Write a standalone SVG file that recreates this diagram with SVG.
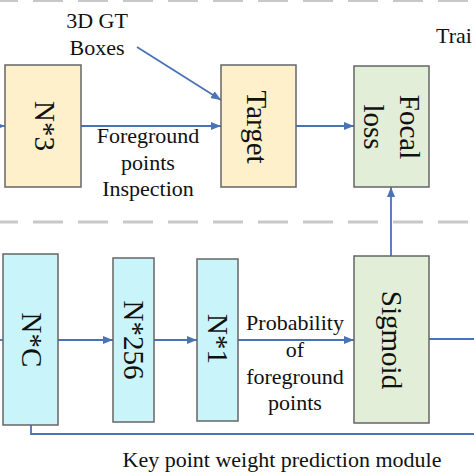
<svg xmlns="http://www.w3.org/2000/svg" width="474" height="474" viewBox="0 0 474 474">
<style>
text{font-family:"Liberation Serif","Times New Roman",serif;fill:#111}
.lbl{font-size:22px}
.box{font-size:29px}
.cream{fill:#fdf0cb;stroke:#666;stroke-width:1.5}
.green{fill:#e2eed8;stroke:#666;stroke-width:1.5}
.cyan{fill:#c9f4fa;stroke:#666;stroke-width:1.5}
.dash{stroke:#c8c8c8;stroke-width:3;stroke-dasharray:30 15;fill:none}
.conn{stroke:#4a72b8;stroke-width:1.8;fill:none}
</style>
<defs>
<marker id="ah" markerWidth="10" markerHeight="8" refX="10" refY="4" orient="auto" markerUnits="userSpaceOnUse">
<path d="M0,0 L10,4 L0,8 Z" fill="#4a72b8"/>
</marker>
</defs>
<rect width="474" height="474" fill="#fff"/>
<g id="dividers">
<line class="dash" x1="-12" y1="0.5" x2="474" y2="0.5"/>
<line class="dash" x1="-12" y1="222" x2="474" y2="222"/>
</g>
<g id="connectors">
<line class="conn" x1="-10" y1="126" x2="5" y2="126" marker-end="url(#ah)"/>
<line class="conn" x1="81" y1="126" x2="221" y2="126" marker-end="url(#ah)"/>
<line class="conn" x1="137" y1="47" x2="221" y2="100" marker-end="url(#ah)"/>
<line class="conn" x1="296" y1="126" x2="354" y2="126" marker-end="url(#ah)"/>
<line class="conn" x1="391" y1="256" x2="391" y2="187" marker-end="url(#ah)"/>
<line class="conn" x1="-5" y1="340" x2="3" y2="340"/>
<line class="conn" x1="58" y1="340" x2="113" y2="340" marker-end="url(#ah)"/>
<line class="conn" x1="154" y1="340" x2="197" y2="340" marker-end="url(#ah)"/>
<line class="conn" x1="238" y1="340" x2="354" y2="340" marker-end="url(#ah)"/>
<line class="conn" x1="429" y1="339" x2="474" y2="339"/>
<polyline class="conn" points="31,425 31,434 474,434"/>
</g>
<g id="n3">
<rect class="cream" x="5" y="65" width="76" height="122"/>
<text class="box" transform="translate(45,126) rotate(90)" text-anchor="middle" dominant-baseline="central">N*3</text>
</g>
<g id="target">
<rect class="cream" x="221" y="65" width="75" height="122"/>
<text class="box" transform="translate(257,127) rotate(90)" text-anchor="middle" dominant-baseline="central">Target</text>
</g>
<g id="focal">
<rect class="green" x="354" y="66" width="75" height="121"/>
<text class="box" transform="translate(392,127) rotate(90)" text-anchor="middle"><tspan x="0" y="-8">Focal</tspan><tspan x="0" y="28">loss</tspan></text>
</g>
<g id="nc">
<rect class="cyan" x="3" y="254" width="55" height="171"/>
<text class="box" transform="translate(32,340) rotate(90)" text-anchor="middle" dominant-baseline="central">N*C</text>
</g>
<g id="n256">
<rect class="cyan" x="113" y="258" width="41" height="164"/>
<text class="box" transform="translate(134,340) rotate(90)" text-anchor="middle" dominant-baseline="central">N*256</text>
</g>
<g id="n1">
<rect class="cyan" x="197" y="259" width="41" height="162"/>
<text class="box" transform="translate(218,339) rotate(90)" text-anchor="middle" dominant-baseline="central">N*1</text>
</g>
<g id="sigmoid">
<rect class="green" x="354" y="256" width="75" height="167"/>
<text class="box" transform="translate(392,340) rotate(90)" text-anchor="middle" dominant-baseline="central">Sigmoid</text>
</g>
<g id="labels">
<text class="lbl" x="97" y="28" text-anchor="middle">3D GT</text>
<text class="lbl" x="97" y="55" text-anchor="middle">Boxes</text>
<text class="lbl" x="148" y="143" text-anchor="middle">Foreground</text>
<text class="lbl" x="148" y="170" text-anchor="middle">points</text>
<text class="lbl" x="148" y="196" text-anchor="middle">Inspection</text>
<text class="lbl" x="436" y="43">Trai</text>
<text class="lbl" x="295" y="330" text-anchor="middle">Probability</text>
<text class="lbl" x="295" y="357" text-anchor="middle">of</text>
<text class="lbl" x="295" y="384" text-anchor="middle">foreground</text>
<text class="lbl" x="295" y="410" text-anchor="middle">points</text>
<text class="lbl" x="282" y="467" text-anchor="middle">Key point weight prediction module</text>
</g>
</svg>
